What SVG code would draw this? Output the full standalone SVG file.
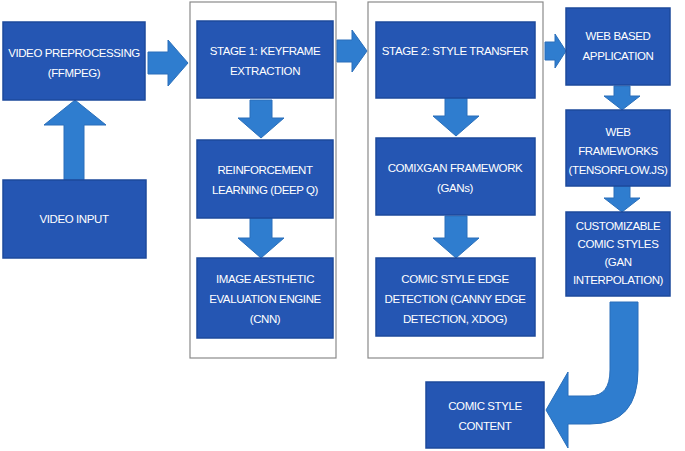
<svg xmlns="http://www.w3.org/2000/svg" width="685" height="451" viewBox="0 0 685 451">
<style>
.b{fill:#2556b3;stroke:#1d4a9c;stroke-width:1.5}
.f{fill:none;stroke:#8a8a8a;stroke-width:1.2}
.a{fill:#2f7dcf;stroke:#2a6fba;stroke-width:1}
text{font-family:"Liberation Sans",Arial,sans-serif;font-size:11.5px;letter-spacing:-0.4px;fill:#fff;text-anchor:middle}
</style>
<rect width="685" height="451" fill="#fff"/>
<rect class="f" x="190" y="2" width="146" height="356"/>
<rect class="f" x="368" y="2" width="175" height="356"/>
<g id="connectors">
<path class="a" d="M64,180V125H44L75,100L106,125H84V180Z"/>
<path class="a" d="M148,52H168V40L188,63L168,86V74H148Z"/>
<path class="a" d="M337,40H352V30L367,51L352,72V62H337Z"/>
<path class="a" d="M545,42H555V34L566,51L555,68V60H545Z"/>
<path class="a" d="M250,100V118H238L261,138L284,118H272V100Z"/>
<path class="a" d="M250,218V238H238L261,258L284,238H272V218Z"/>
<path class="a" d="M445,95V116H433L456,136L479,116H467V95Z"/>
<path class="a" d="M445,216V238H433L456,258L479,238H467V216Z"/>
<path class="a" d="M614,86V96H604L622,110L640,96H630V86Z"/>
<path class="a" d="M614,186V198H604L622,212L640,198H630V186Z"/>
<path class="a" d="M610,302H638V370Q638,424 590,424H568V448L546,410L568,372V396H590Q610,396 610,370Z"/>
</g>
<g id="video-preprocessing"><rect class="b" x="3" y="22" width="142" height="78"/><text x="74" y="57">VIDEO PREPROCESSING</text><text x="74" y="77">(FFMPEG)</text></g>
<g id="video-input"><rect class="b" x="3" y="180" width="143" height="78"/><text x="74" y="223">VIDEO INPUT</text></g>
<g id="stage1"><rect class="b" x="197" y="21" width="136" height="77"/><text x="265" y="55">STAGE 1: KEYFRAME</text><text x="265" y="75">EXTRACTION</text></g>
<g id="rl"><rect class="b" x="197" y="140" width="136" height="78"/><text x="265" y="174">REINFORCEMENT</text><text x="265" y="194">LEARNING (DEEP Q)</text></g>
<g id="aesthetic"><rect class="b" x="197" y="258" width="136" height="80"/><text x="265" y="283">IMAGE AESTHETIC</text><text x="265" y="303">EVALUATION ENGINE</text><text x="265" y="323">(CNN)</text></g>
<g id="stage2"><rect class="b" x="376" y="22" width="159" height="76"/><text x="455" y="55">STAGE 2: STYLE TRANSFER</text></g>
<g id="comixgan"><rect class="b" x="376" y="138" width="159" height="77"/><text x="455" y="172">COMIXGAN FRAMEWORK</text><text x="455" y="192">(GANs)</text></g>
<g id="edge"><rect class="b" x="376" y="258" width="159" height="78"/><text x="455" y="283">COMIC STYLE EDGE</text><text x="455" y="303">DETECTION (CANNY EDGE</text><text x="455" y="323">DETECTION, XDOG)</text></g>
<g id="web-app"><rect class="b" x="566" y="8" width="104" height="77"/><text x="618" y="40">WEB BASED</text><text x="618" y="60">APPLICATION</text></g>
<g id="web-frameworks"><rect class="b" x="566" y="110" width="104" height="76"/><text x="618" y="136">WEB</text><text x="618" y="155">FRAMEWORKS</text><text x="618" y="174">(TENSORFLOW.JS)</text></g>
<g id="customizable"><rect class="b" x="566" y="212" width="104" height="84"/><text x="618" y="230">CUSTOMIZABLE</text><text x="618" y="248">COMIC STYLES</text><text x="618" y="266">(GAN</text><text x="618" y="284">INTERPOLATION)</text></g>
<g id="comic-content"><rect class="b" x="426" y="382" width="118" height="66"/><text x="485" y="410">COMIC STYLE</text><text x="485" y="430">CONTENT</text></g>
</svg>
